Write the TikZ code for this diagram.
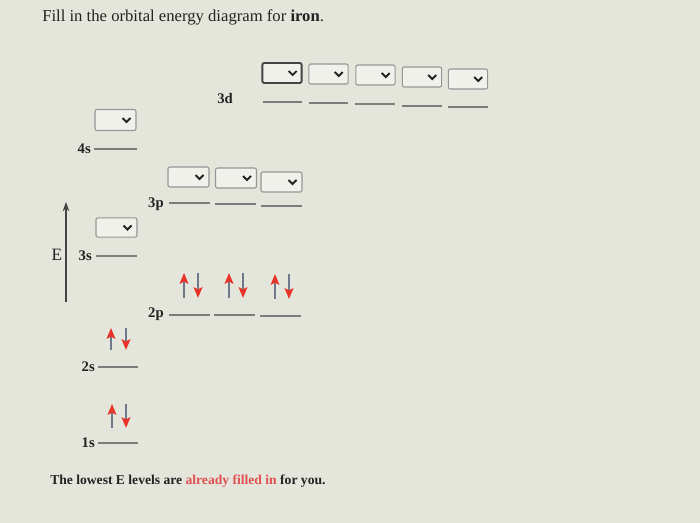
\documentclass[tikz,border=0pt]{standalone}
\usepackage{fontspec}
\setmainfont{Liberation Serif}
\usetikzlibrary{arrows.meta,calc}
\definecolor{bg}{RGB}{228,229,219}
\definecolor{lvl}{RGB}{125,125,125}
\definecolor{boxc}{RGB}{150,150,150}
\definecolor{spinred}{RGB}{232,52,40}
\definecolor{shaft}{RGB}{110,120,140}
\definecolor{txtred}{RGB}{225,80,80}
\definecolor{ink}{RGB}{35,35,35}
\newcommand\ddbox[4][]{%
  \node[ddbox,#1] (#2) at (#3,#4) {};
  \draw[chev] ($(#2.east)+(-14,-2)$) -- ++(4,4) -- ++(4,-4);}
\begin{document}
\begin{tikzpicture}[x=0.75pt,y=-0.75pt,
  level/.style={draw=lvl,line width=1.2pt},
  ddbox/.style={draw=boxc,line width=0.8pt,rounded corners=1.5pt,fill=bg!55!white,
    minimum width=29.5pt,minimum height=15pt,inner sep=0pt},
  chev/.style={draw=ink,line width=1.4pt},
  lab/.style={font=\fontsize{11}{13}\selectfont\bfseries,text=ink,anchor=east,inner sep=0pt},
  spin/.style={draw=shaft,line width=1.4pt,-{Stealth[length=8pt,width=6.5pt,inset=1.5pt,color=spinred]}}
]
\fill[bg] (0,0) rectangle (700,523);
\useasboundingbox (0,0) rectangle (700,523);

% title
\node[anchor=base west,inner sep=0pt,font=\fontsize{12.5}{15}\selectfont,text=ink] (title) at (42,22)
  {Fill in the orbital energy diagram for \textbf{iron}.};

% 3d
\node[font=\fontsize{11}{13}\selectfont\bfseries,text=ink,inner sep=0pt] (l3d) at (225,98) {3d};
\ddbox[draw=ink!85,line width=1.4pt]{d1}{282}{73}
\ddbox{d2}{328.5}{74}
\ddbox{d3}{375.5}{75}
\ddbox{d4}{422}{77}
\ddbox{d5}{468}{79}
\draw[level] (263,102) -- (302,102);
\draw[level] (309,103) -- (348,103);
\draw[level] (355,104) -- (395,104);
\draw[level] (402,106) -- (442,106);
\draw[level] (448,107) -- (488,107);

% 4s
\ddbox[minimum width=30.75pt,minimum height=15.75pt]{s4}{115.5}{120}
\draw[level] (94,149) coordinate (s4a) -- (137,149);
\node[lab] (l4s) at ($(s4a)+(-3,0)$) {4s};

% 3p
\ddbox[minimum width=30.75pt]{p31}{188.5}{177}
\ddbox[minimum width=30.75pt]{p32}{236}{178}
\ddbox[minimum width=30.75pt]{p33}{281.5}{182}
\draw[level] (169,203) coordinate (p3a) -- (210,203);
\draw[level] (215,204) -- (256,204);
\draw[level] (261,206) -- (302,206);
\node[lab] (l3p) at ($(p3a)+(-5,1)$) {3p};

% 3s
\ddbox[minimum width=30.75pt,minimum height=14.5pt]{s3}{116.5}{227.5}
\draw[level] (96,256) coordinate (s3a) -- (137,256);
\node[lab] (l3s) at ($(s3a)+(-4,0)$) {3s};

% E axis
\node[font=\fontsize{13}{15}\selectfont,text=ink,inner sep=0pt] (E) at (57,255) {E};
\coordinate (ax0) at (66,302);
\coordinate (ax1) at (66,202);
\draw[ink!85,line width=0.9pt,-{Stealth[length=7pt,width=5pt]}] (ax0) -- (ax1);

% 2p
\draw[level] (169,315) coordinate (p2a) -- (210,315);
\draw[level] (214,315) -- (255,315);
\draw[level] (260,316) -- (301,316);
\node[lab] (l2p) at ($(p2a)+(-5,-1)$) {2p};
\draw[spin] (184,298) -- (184,273);
\draw[spin] (198,273) -- (198,298);
\draw[spin] (229,298) -- (229,273);
\draw[spin] (243,273) -- (243,298);
\draw[spin] (275,299) -- (275,274);
\draw[spin] (289,274) -- (289,299);

% 2s
\draw[level] (98,367) coordinate (s2a) -- (138,367);
\node[lab] (l2s) at ($(s2a)+(-3,0)$) {2s};
\draw[spin] (111,350) -- (111,328);
\draw[spin] (126,328) -- (126,350);

% 1s
\draw[level] (98,443) coordinate (s1a) -- (138,443);
\node[lab] (l1s) at ($(s1a)+(-3,0)$) {1s};
\draw[spin] (112,428) -- (112,404);
\draw[spin] (126,404) -- (126,428);

% footer
\node[anchor=base west,inner sep=0pt,font=\fontsize{10.2}{12}\selectfont\bfseries,text=ink] (foot) at (50,485)
  {The lowest E levels are \textcolor{txtred}{already filled in} for you.};
\end{tikzpicture}
\end{document}
